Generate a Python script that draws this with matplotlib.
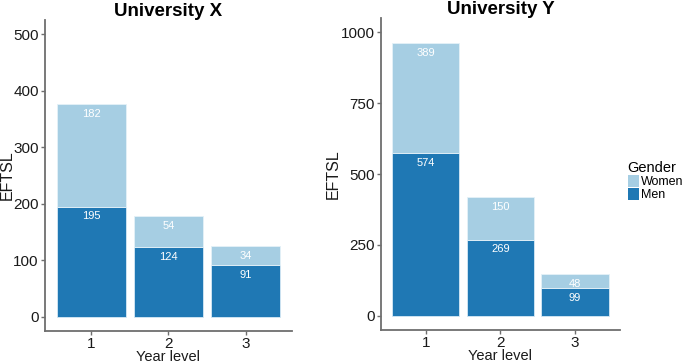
import matplotlib
matplotlib.use("Agg")
import matplotlib.pyplot as plt
from matplotlib.patches import Patch
import numpy as np

plt.rcParams['font.family'] = ['Liberation Sans', 'DejaVu Sans']

years = ["1", "2", "3"]
x_men = [195, 124, 91]
x_women = [182, 54, 34]
y_men = [574, 269, 99]
y_women = [389, 150, 48]

titles = ["University X", "University Y"]
yticks_x = [0, 100, 200, 300, 400, 500]
yticks_y = [0, 250, 500, 750, 1000]

c_men = "#1f78b4"
c_women = "#a6cee3"
spine_c = "#6e6e6e"

fig = plt.figure(figsize=(6.85, 3.63), dpi=100)
ax1 = fig.add_axes([0.0657, 0.088, 0.3603, 0.857])
ax2 = fig.add_axes([0.556, 0.091, 0.349, 0.859])

def draw(ax, men, women, title, yticks, ylim, ylab_x):
    pos = np.arange(1, len(years) + 1)
    men = np.array(men); women = np.array(women)
    ax.bar(pos, men, width=0.9, color=c_men, edgecolor="#d6e9f5", linewidth=0.6)
    ax.bar(pos, women, bottom=men, width=0.9, color=c_women, edgecolor="#e4f1f8", linewidth=0.6)
    for p, m, w in zip(pos, men, women):
        ax.annotate(str(m), (p, m), xytext=(0, -3.5), textcoords="offset points",
                    ha="center", va="top", color="white", fontsize=8)
        ax.annotate(str(w), (p, m + w), xytext=(0, -3.5), textcoords="offset points",
                    ha="center", va="top", color="white", fontsize=8)
    ax.set_xlim(0.4, 3.6)
    ax.set_ylim(*ylim)
    ax.set_xticks(pos)
    ax.set_xticklabels(years)
    ax.set_yticks(yticks)
    ax.set_title(title, fontsize=13.5, fontweight="bold", pad=1)
    ax.set_xlabel("Year level", fontsize=10.5, labelpad=-1, color="#1a1a1a")
    ax.set_ylabel("EFTSL", fontsize=11.5, color="#1a1a1a")
    ax.yaxis.set_label_coords(ylab_x, 0.5)
    for s in ["top", "right"]:
        ax.spines[s].set_visible(False)
    for s in ["left", "bottom"]:
        ax.spines[s].set_color(spine_c)
        ax.spines[s].set_linewidth(1.3)
    ax.tick_params(axis="both", colors=spine_c, labelcolor="#1a1a1a",
                   labelsize=11, length=3, width=1, pad=1.5)

draw(ax1, x_men, x_women, titles[0], yticks_x, (-25, 525), -0.122)
draw(ax2, y_men, y_women, titles[1], yticks_y, (-50, 1050), -0.167)

handles = [Patch(facecolor=c_women, edgecolor="none", label="Women"),
           Patch(facecolor=c_men, edgecolor="none", label="Men")]
fig.legend(handles=handles, title="Gender", loc="upper left",
           bbox_to_anchor=(0.907, 0.575), frameon=False, fontsize=9,
           title_fontsize=10.5, handlelength=0.9, handleheight=1.1,
           handletextpad=0.15, labelspacing=0.0, borderpad=0, alignment="left")

fig.savefig("out.png", dpi=100)
